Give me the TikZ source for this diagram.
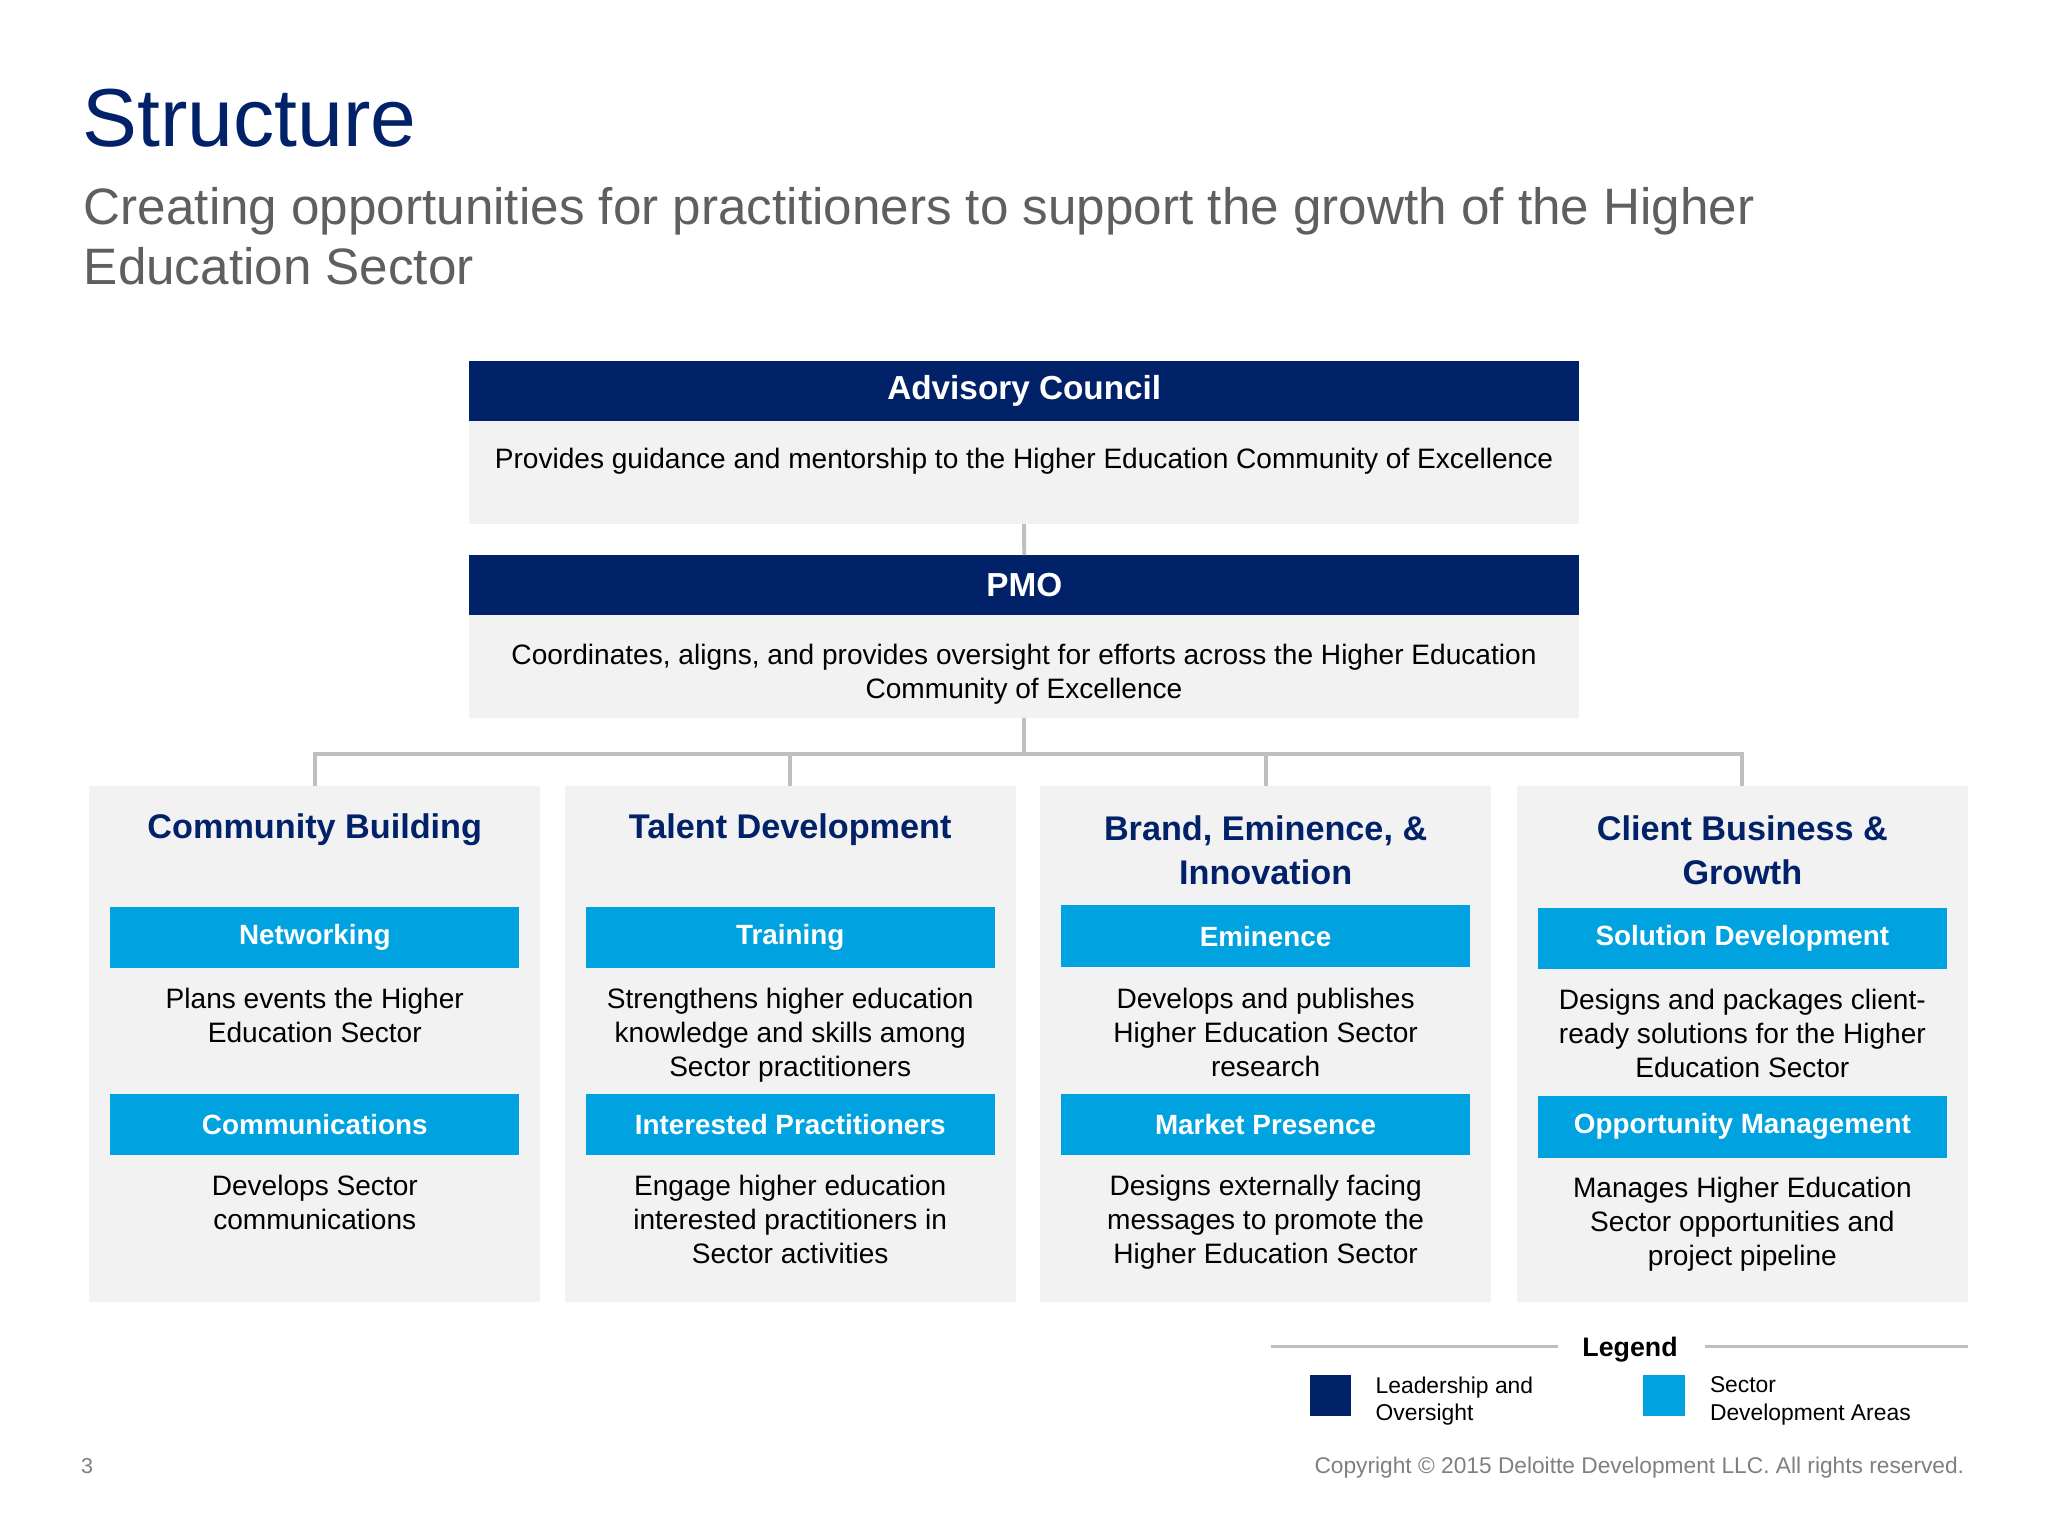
\documentclass[tikz,border=0pt]{standalone}
\usepackage{fontspec}
\setmainfont{Liberation Sans}
\definecolor{navy}{HTML}{012169}
\definecolor{sky}{HTML}{00A3E0}
\definecolor{panel}{HTML}{F2F2F3}
\definecolor{conn}{HTML}{BFBFBF}
\definecolor{subg}{HTML}{5F5F5F}
\begin{document}
\begin{tikzpicture}[x=1pt,y=-1pt,
  hdr/.style={fill=navy,text=white,font=\fontsize{25.5}{30}\selectfont\bfseries,minimum height=46pt,inner sep=0pt,anchor=north west},
  bodyt/.style={font=\fontsize{21.5}{26}\selectfont,align=center,text=black},
  coltitle/.style={font=\fontsize{26.2}{33}\selectfont\bfseries,text=navy,align=center},
  bar/.style={fill=sky,text=white,font=\fontsize{21.3}{25}\selectfont\bfseries,minimum width=313pt,minimum height=47pt,inner sep=0pt,anchor=north},
  ln/.style={draw=conn,line width=3pt},
  legt/.style={font=\fontsize{17.5}{21}\selectfont,align=left,anchor=north west,inner sep=0pt}]
\useasboundingbox (0,0) rectangle (1568,1176);
\fill[white] (0,0) rectangle (1568,1176);
\node[anchor=base west,inner sep=0pt,text=navy,font=\fontsize{63}{70}\selectfont] (title) at (63,112) {Structure};
\node[anchor=base west,inner sep=0pt,text=subg,font=\fontsize{39.2}{46}\selectfont] (sub1) at (64,172) {Creating opportunities for practitioners to support the growth of the Higher};
\node[anchor=base west,inner sep=0pt,text=subg,font=\fontsize{39.2}{46}\selectfont] (sub2) at (64,218) {Education Sector};
% advisory
\fill[panel] (359,322) rectangle (1209,401);
\node[hdr,minimum width=850pt] (adv) at (359,276) {Advisory Council};
\node[bodyt] (advb) at (784,353) {Provides guidance and mentorship to the Higher Education Community of Excellence};
\fill[panel] (359,471) rectangle (1209,550);
\node[hdr,minimum width=850pt] (pmo) at (359,425) {PMO};
\node[bodyt] (pmob) at (784,516) {Coordinates, aligns, and provides oversight for efforts across the Higher Education\\Community of Excellence};
\coordinate (advbot) at (784,401);
\coordinate (pmobot) at (784,550);
\draw[ln] (advbot) -- (pmo.north);
\coordinate (hub) at (784,577);
\draw[ln] (pmobot) -- (hub);
\draw[ln] (241,603) -- (241,577) -- (1334,577) -- (1334,603);
\draw[ln] (605,577) -- (605,603);
\draw[ln] (969,577) -- (969,603);
% columns
\foreach \x in {241,605,969,1334}{
  \fill[panel] (\x-172.5,602) rectangle (\x+172.5,997);
}
\node[coltitle] (t1) at (241,635) {Community Building};
\node[coltitle] (t2) at (605,635) {Talent Development};
\node[coltitle] (t3) at (969,651) {Brand, Eminence, \&\\Innovation};
\node[coltitle] (t4) at (1334,651) {Client Business \&\\Growth};
\node[bar] (b1a) at (241,694) {Networking};
\node[bar] (b2a) at (605,694) {Training};
\node[bar] (b3a) at (969,693) {Eminence};
\node[bar] (b4a) at (1334,695) {Solution Development};
\node[bar] (b1b) at (241,837) {Communications};
\node[bar] (b2b) at (605,837) {Interested Practitioners};
\node[bar] (b3b) at (969,837) {Market Presence};
\node[bar] (b4b) at (1334,839) {Opportunity Management};
\node[bodyt,anchor=north] (d1a) at (241,753) {Plans events the Higher\\Education Sector};
\node[bodyt,anchor=north] (d2a) at (605,753) {Strengthens higher education\\knowledge and skills among\\Sector practitioners};
\node[bodyt,anchor=north] (d3a) at (969,753) {Develops and publishes\\Higher Education Sector\\research};
\node[bodyt,anchor=north] (d4a) at (1334,754) {Designs and packages client-\\ready solutions for the Higher\\Education Sector};
\node[bodyt,anchor=north] (d1b) at (241,896) {Develops Sector\\communications};
\node[bodyt,anchor=north] (d2b) at (605,896) {Engage higher education\\interested practitioners in\\Sector activities};
\node[bodyt,anchor=north] (d3b) at (969,896) {Designs externally facing\\messages to promote the\\Higher Education Sector};
\node[bodyt,anchor=north] (d4b) at (1334,898) {Manages Higher Education\\Sector opportunities and\\project pipeline};
% legend
\node[font=\fontsize{20.5}{24}\selectfont\bfseries] (leg) at (1248,1033) {Legend};
\draw[draw=conn,line width=2pt] (973,1031) -- (1193,1031);
\draw[draw=conn,line width=2pt] (1305,1031) -- (1507,1031);
\fill[navy] (1003,1053) rectangle (1034,1084);
\fill[sky] (1258,1053) rectangle (1290,1084);
\node[legt] (l1) at (1053,1054) {Leadership and\\Oversight};
\node[legt] (l2) at (1309,1054) {Sector\\Development Areas};
\node[anchor=base west,inner sep=0pt,text=gray,font=\fontsize{16.5}{20}\selectfont] (pg) at (62,1128) {3};
\node[anchor=base east,inner sep=0pt,text=gray,font=\fontsize{17.4}{20}\selectfont] (copy) at (1504,1128) {Copyright © 2015 Deloitte Development LLC. All rights reserved.};
\end{tikzpicture}
\end{document}
